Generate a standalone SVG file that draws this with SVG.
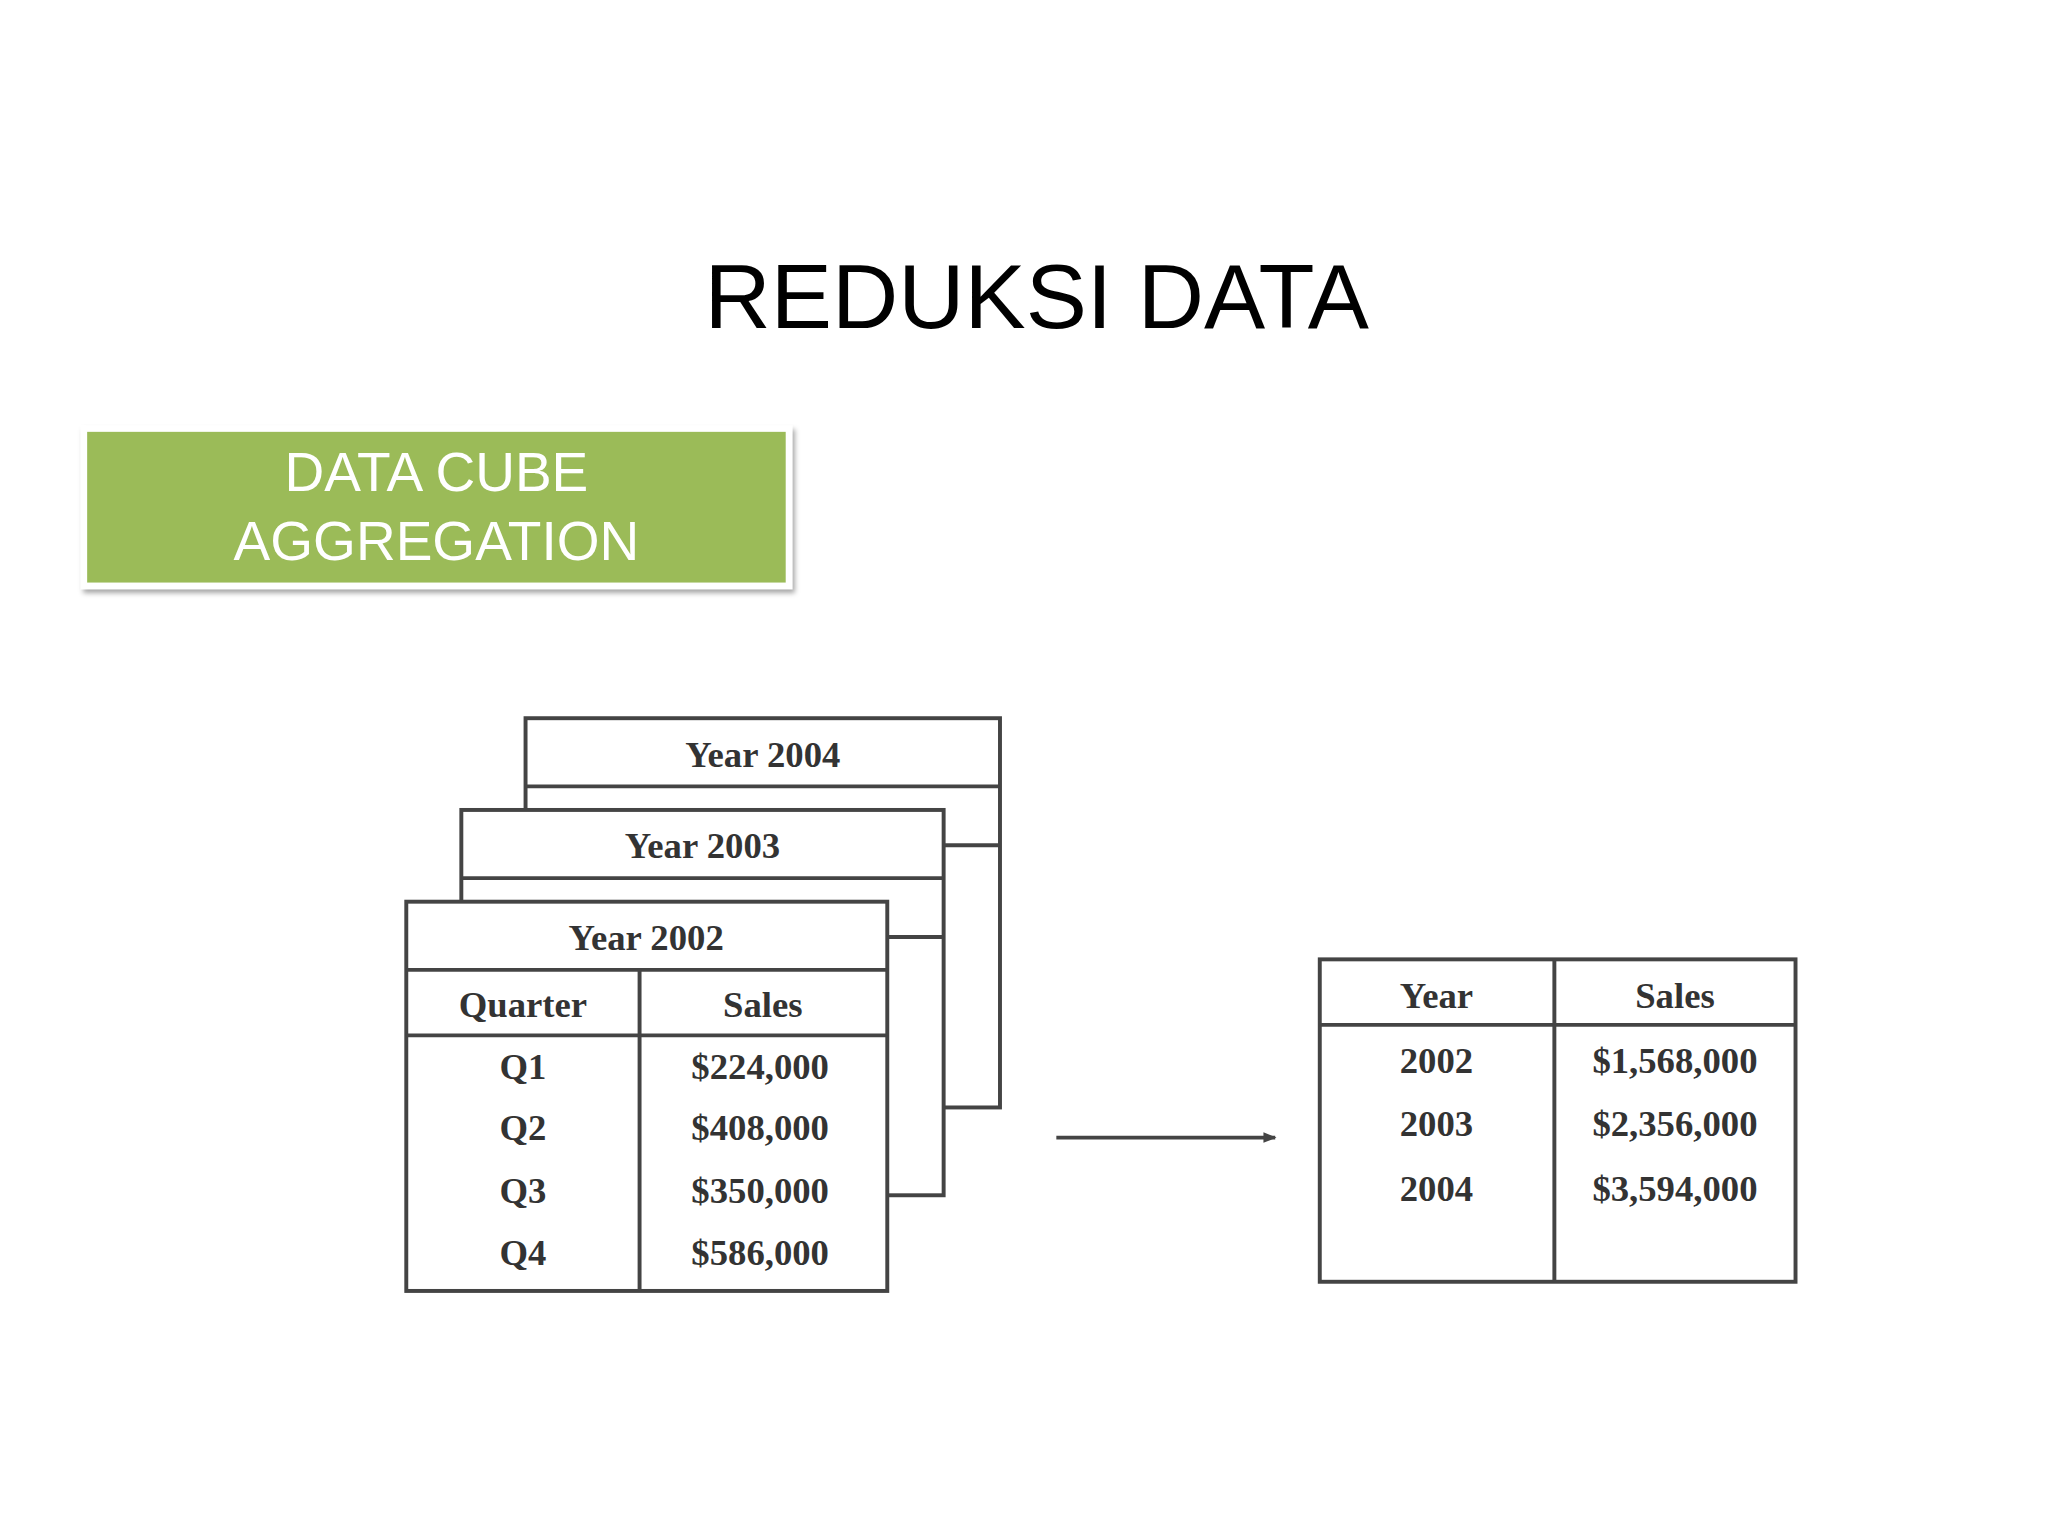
<svg xmlns="http://www.w3.org/2000/svg" width="2048" height="1536" viewBox="0 0 2048 1536">
<defs>
<style>
.t{stroke:#444;stroke-width:3;fill:#fff}
.l{stroke:#444;stroke-width:3;fill:none}
.s{font-family:"Liberation Serif",serif;font-size:28px;font-weight:bold;fill:#333;text-anchor:middle}
</style>
<marker id="ah" markerWidth="10" markerHeight="8" refX="9" refY="4" orient="auto" markerUnits="userSpaceOnUse"><path d="M0,0 L10,4 L0,8 Z" fill="#444"/></marker>
<filter id="sh"><feDropShadow dx="2" dy="3" stdDeviation="2" flood-color="#000" flood-opacity="0.35"/></filter>
</defs>
<rect width="2048" height="1536" fill="#fff"/>
<g transform="scale(1.3106)">
<g id="title"><text x="791" y="250" font-family="Liberation Sans,Arial,sans-serif" font-size="70" text-anchor="middle" fill="#000">REDUKSI DATA</text></g>
<g id="label">
<rect x="64" y="327" width="538" height="120" fill="#9bbb59" stroke="#fff" stroke-width="5" filter="url(#sh)"/>
<text x="333" y="375" font-family="Liberation Sans,Arial,sans-serif" font-size="42" fill="#fff" text-anchor="middle">DATA CUBE</text>
<text x="333" y="427" font-family="Liberation Sans,Arial,sans-serif" font-size="42" fill="#fff" text-anchor="middle">AGGREGATION</text>
</g>
<g id="t2004">
<rect class="t" x="401" y="548" width="362" height="297"/>
<line class="l" x1="401" y1="600" x2="763" y2="600"/>
<text class="s" x="582" y="585">Year 2004</text>
</g>
<g id="t2003">
<rect class="t" x="352" y="618" width="368" height="294"/>
<line class="l" x1="352" y1="670" x2="720" y2="670"/>
<line class="l" x1="720" y1="645" x2="763" y2="645"/>
<text class="s" x="536" y="655">Year 2003</text>
</g>
<g id="t2002">
<rect class="t" x="310" y="688" width="367" height="297"/>
<line class="l" x1="310" y1="740" x2="677" y2="740"/>
<line class="l" x1="310" y1="790" x2="677" y2="790"/>
<line class="l" x1="488" y1="740" x2="488" y2="985"/>
<line class="l" x1="677" y1="715" x2="720" y2="715"/>
<text class="s" x="493" y="725">Year 2002</text>
<text class="s" x="399" y="776">Quarter</text>
<text class="s" x="582" y="776">Sales</text>
<text class="s" x="399" y="823">Q1</text><text class="s" x="580" y="823">$224,000</text>
<text class="s" x="399" y="870">Q2</text><text class="s" x="580" y="870">$408,000</text>
<text class="s" x="399" y="918">Q3</text><text class="s" x="580" y="918">$350,000</text>
<text class="s" x="399" y="965">Q4</text><text class="s" x="580" y="965">$586,000</text>
</g>
<g id="result">
<rect class="t" x="1007" y="732" width="363" height="246"/>
<line class="l" x1="1007" y1="782" x2="1370" y2="782"/>
<line class="l" x1="1186" y1="732" x2="1186" y2="978"/>
<text class="s" x="1096" y="769">Year</text>
<text class="s" x="1278" y="769">Sales</text>
<text class="s" x="1096" y="819">2002</text><text class="s" x="1278" y="819">$1,568,000</text>
<text class="s" x="1096" y="867">2003</text><text class="s" x="1278" y="867">$2,356,000</text>
<text class="s" x="1096" y="916">2004</text><text class="s" x="1278" y="916">$3,594,000</text>
</g>
<g id="connectors">
<line class="l" x1="806" y1="868" x2="973" y2="868" marker-end="url(#ah)"/>
</g>
</g>
</svg>
